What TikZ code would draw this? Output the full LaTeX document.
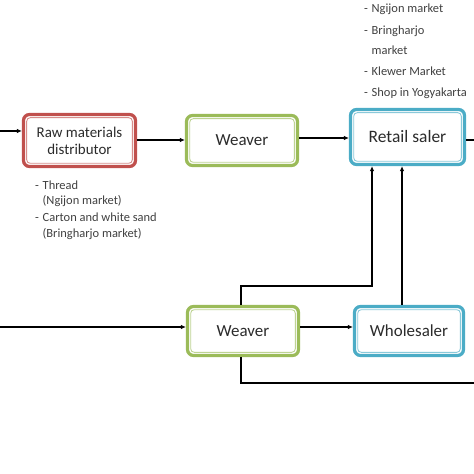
\documentclass[tikz,border=0pt]{standalone}
\usepackage{fontspec}
\setmainfont{Carlito}
\usetikzlibrary{arrows.meta}
\definecolor{cred}{HTML}{C0504D}
\definecolor{cgreen}{HTML}{9BBB59}
\definecolor{cblue}{HTML}{4BACC6}
\definecolor{ctext}{HTML}{2B2B2B}
\definecolor{clist}{HTML}{404040}
\tikzset{
  boxbase/.style={rectangle, rounded corners=6bp, line width=3.2bp, fill=white, text=ctext, align=center, inner sep=2bp},
  redbox/.style={boxbase, draw=cred},
  greenbox/.style={boxbase, draw=cgreen},
  bluebox/.style={boxbase, draw=cblue},
  innerline/.style={rounded corners=3.5bp, line width=0.9bp},
  conn/.style={line width=1.1bp, draw=black},
  arr/.style={conn, -{Latex[length=5bp,width=4.5bp]}},
  lst/.style={anchor=mid west, inner sep=0pt, text=clist, font=\fontsize{12.5}{15}\selectfont},
}
\newcommand{\dashitem}{\makebox[7.5bp][l]{-}}
\newcommand{\innerframe}[2]{\draw[innerline, draw=#2!65] ([xshift=4.8bp,yshift=-4.8bp]#1.north west) rectangle ([xshift=-4.8bp,yshift=4.8bp]#1.south east);}
\begin{document}
\begin{tikzpicture}[x=1bp,y=-1bp]
\useasboundingbox (0,0) rectangle (474,474);
% boxes
\node[redbox, minimum width=112bp, minimum height=52bp, font=\fontsize{15}{17}\selectfont] (raw) at (79.5,140.5) {Raw materials\\distributor};
\node[greenbox, minimum width=111bp, minimum height=50bp, font=\fontsize{17}{20}\selectfont] (w1) at (242,140.5) {Weaver};
\node[bluebox, minimum width=114bp, minimum height=55bp, font=\fontsize{17.5}{20}\selectfont] (ret) at (407.5,137) {Retail saler};
\node[greenbox, minimum width=111bp, minimum height=49bp, font=\fontsize{17}{20}\selectfont] (w2) at (243,331) {Weaver};
\node[bluebox, minimum width=109bp, minimum height=49bp, font=\fontsize{17}{20}\selectfont] (who) at (409,331) {Wholesaler};
\innerframe{raw}{cred}
\innerframe{w1}{cgreen}
\innerframe{ret}{cblue}
\innerframe{w2}{cgreen}
\innerframe{who}{cblue}
% free ends
\coordinate (inA) at (0,131);
\coordinate (inB) at (0,327);
\coordinate (outR) at (474,140);
\coordinate (outB) at (474,383);
\coordinate (j1) at (241,286);
\coordinate (j2) at (372,286);
\coordinate (j3) at (241,383);
% connectors
\draw[arr] (inA) -- (inA -| raw.west);
\draw[arr] (raw.east |- 0,140) -- (w1.west |- 0,140);
\draw[arr] (w1.east |- 0,138) -- (ret.west |- 0,138);
\draw[conn] (ret.east |- outR) -- (outR);
\draw[arr] (inB) -- (inB -| w2.west);
\draw[arr] (w2.east |- 0,327) -- (who.west |- 0,327);
\draw[arr] (w2.north -| j1) -- (j1) -- (j2) -- (ret.south -| j2);
\draw[arr] (who.north -| 402,0) -- (ret.south -| 402,0);
\draw[conn] (w2.south -| j3) -- (j3) -- (outB);
% lists
\node[lst] (l1) at (364,10) {\dashitem Ngijon market};
\node[lst] (l2) at (364,32) {\dashitem Bringharjo};
\node[lst] (l3) at (364,52) {\hspace*{7.5bp}market};
\node[lst] (l4) at (364,73) {\dashitem Klewer Market};
\node[lst] (l5) at (364,94) {\dashitem Shop in Yogyakarta};
\node[lst] (b1) at (35,187) {\dashitem Thread};
\node[lst] (b2) at (35,202) {\hspace*{7.5bp}(Ngijon market)};
\node[lst] (b3) at (35,219) {\dashitem Carton and white sand};
\node[lst] (b4) at (35,235) {\hspace*{7.5bp}(Bringharjo market)};
\end{tikzpicture}
\end{document}
